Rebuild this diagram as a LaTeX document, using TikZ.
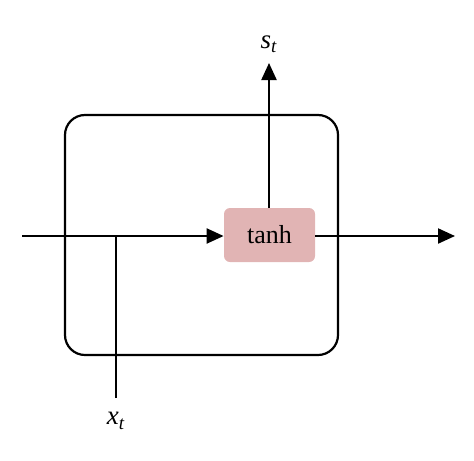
\documentclass[tikz,border=0pt]{standalone}
\usepackage{fontspec}
\setmainfont{Liberation Serif}
\usetikzlibrary{arrows.meta}
\definecolor{tanhfill}{RGB}{225,180,180}
\begin{document}
\begin{tikzpicture}[x=0.5pt,y=-0.5pt,
  line/.style={line width=1.1pt,black},
  arr/.style={line, -{Triangle[length=8.5pt,width=7.5pt]}},
  cell/.style={line, rounded corners=10pt},
  func/.style={fill=tanhfill, draw=none, rounded corners=3pt, minimum width=45.5pt, minimum height=27pt, inner sep=0pt, font=\fontsize{13}{15}\selectfont},
  lbl/.style={font=\fontsize{13.5}{15}\selectfont\itshape, inner sep=0pt}]
\useasboundingbox (0,0) rectangle (474,460);
\draw[cell] (65,115) rectangle (338,355);
\node[func] (tanh) at (269.5,235) {tanh};
\coordinate (in) at (22,236);
\coordinate (junc) at (116,236);
\coordinate (xend) at (116,398);
\coordinate (out) at (455,236);
\coordinate (stop) at (269,63);
\node[lbl] (xt) at (116,421) {x\textsubscript{t}};
\node[lbl] (st) at (269,44) {s\textsubscript{t}};
\draw[arr] (in) -- (tanh.west |- in);
\draw[line] (xend) -- (junc);
\draw[arr] (tanh.east |- out) -- (out);
\draw[arr] (tanh.north -| stop) -- (stop);
\end{tikzpicture}
\end{document}
